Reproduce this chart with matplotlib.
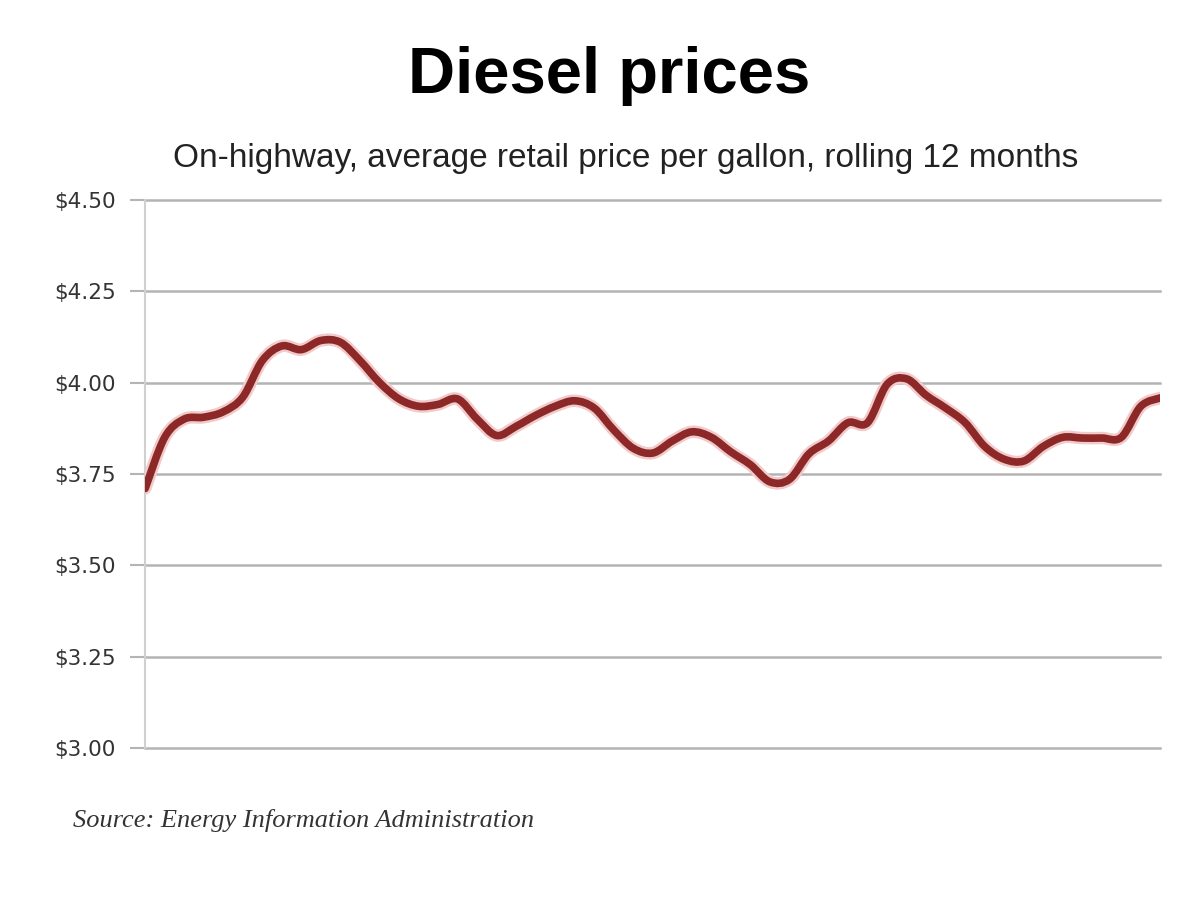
import matplotlib
matplotlib.use('Agg')
import matplotlib.pyplot as plt
import matplotlib.patheffects as pe
from matplotlib.path import Path
from matplotlib.patches import PathPatch

# weekly prices, rolling 12 months
weeks = list(range(53))
prices = [3.71, 3.85, 3.90, 3.905, 3.92, 3.96, 4.06, 4.10, 4.09, 4.115,
          4.11, 4.06, 4.00, 3.955, 3.935, 3.94, 3.955, 3.90, 3.855, 3.88,
          3.91, 3.935, 3.95, 3.93, 3.87, 3.82, 3.807, 3.84, 3.865, 3.85,
          3.81, 3.775, 3.728, 3.735, 3.805, 3.84, 3.89, 3.89, 3.995, 4.01,
          3.965, 3.93, 3.89, 3.825, 3.79, 3.785, 3.825, 3.85, 3.848, 3.848,
          3.85, 3.935, 3.958]
yticks = [3.00, 3.25, 3.50, 3.75, 4.00, 4.25, 4.50]
ylabels = ['$3.00', '$3.25', '$3.50', '$3.75', '$4.00', '$4.25', '$4.50']

fig = plt.figure(figsize=(12, 9), dpi=100)
ax = fig.add_axes([0.121, 0.169, 0.846, 0.609])

for t in yticks:
    ax.axhline(t, color='#b4b4b4', lw=1.8, zorder=1, clip_on=False)

# smoothed line like the spreadsheet's (Catmull-Rom through the data points)
verts = [(weeks[0], prices[0])]
codes = [Path.MOVETO]
n = len(weeks)
for i in range(n - 1):
    x0, y0 = weeks[max(i - 1, 0)], prices[max(i - 1, 0)]
    x1, y1 = weeks[i], prices[i]
    x2, y2 = weeks[i + 1], prices[i + 1]
    x3, y3 = weeks[min(i + 2, n - 1)], prices[min(i + 2, n - 1)]
    verts += [(x1 + (x2 - x0) / 6, y1 + (y2 - y0) / 6),
              (x2 - (x3 - x1) / 6, y2 - (y3 - y1) / 6),
              (x2, y2)]
    codes += [Path.CURVE4] * 3
line = PathPatch(Path(verts, codes), fill=False, edgecolor='#8c2828', lw=5.5,
                 joinstyle='round', capstyle='round', zorder=3,
                 path_effects=[pe.Stroke(linewidth=9, foreground='#f2caca'), pe.Normal()])
ax.add_patch(line)

ax.set_xlim(0, 52)
ax.set_ylim(3.0, 4.5)
ax.set_yticks(yticks)
ax.set_yticklabels(ylabels, fontsize=15.5, color='#333333')
ax.set_xticks([])
ax.tick_params(axis='y', length=11, width=1.5, color='#b4b4b4', pad=10)
for s in ['top', 'right', 'bottom']:
    ax.spines[s].set_visible(False)
ax.spines['left'].set_color('#d0d0d0')
ax.spines['left'].set_linewidth(1.5)

fig.text(0.508, 0.915, 'Diesel prices', ha='center', va='center',
         fontsize=47, fontweight='bold', family='Liberation Sans')
fig.text(0.521, 0.824, 'On-highway, average retail price per gallon, rolling 12 months',
         ha='center', va='center', fontsize=24, family='Liberation Sans', color='#222222')
fig.text(0.061, 0.088, 'Source: Energy Information Administration', ha='left', va='center',
         fontsize=19, style='italic', family='Liberation Serif', color='#333333')

plt.savefig('out.png', dpi=100)
